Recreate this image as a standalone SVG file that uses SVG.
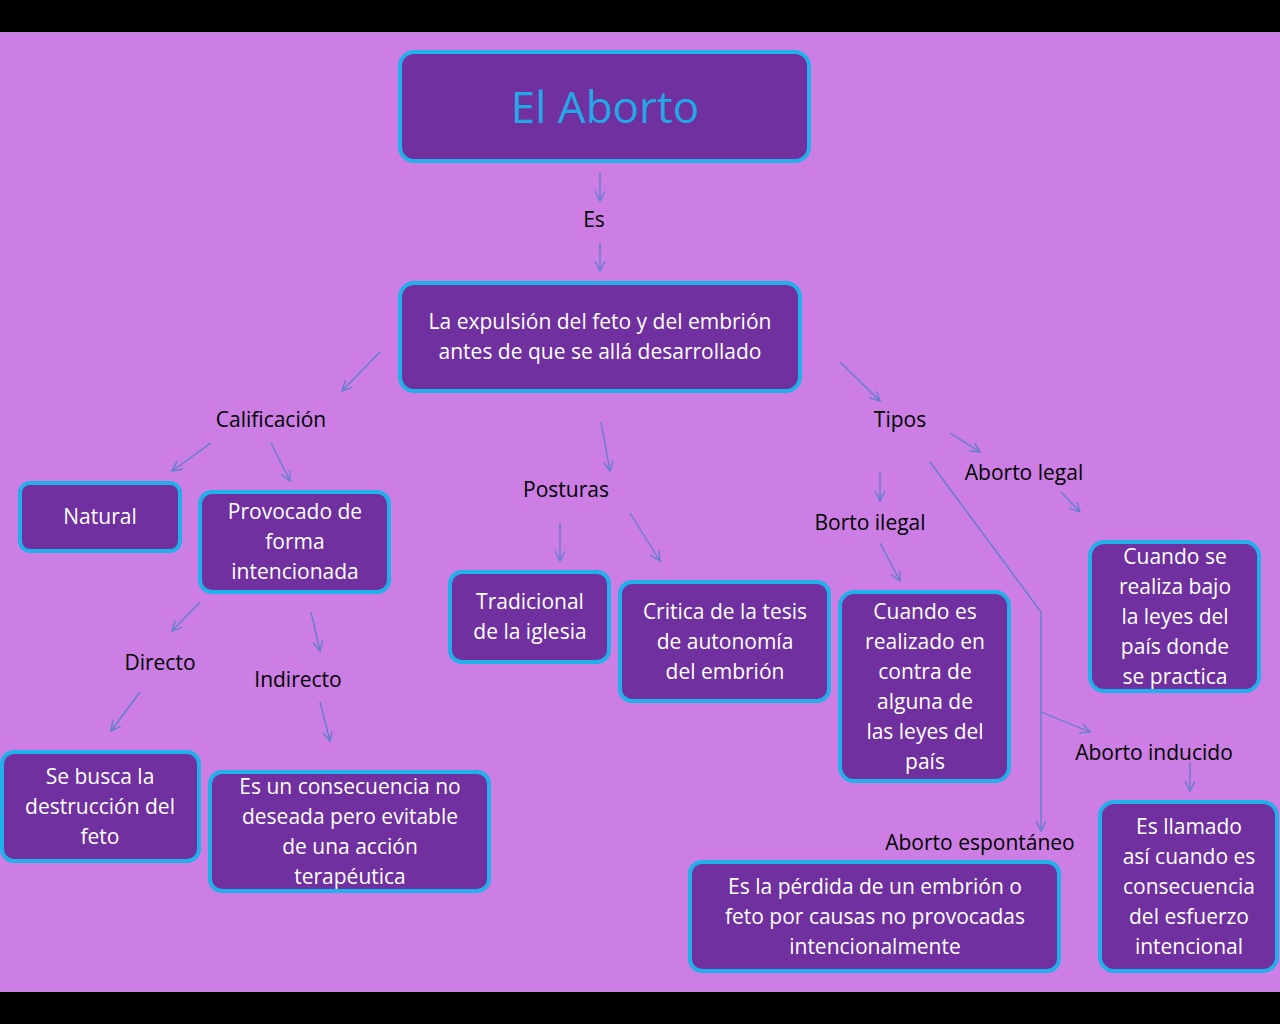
<svg xmlns="http://www.w3.org/2000/svg" width="1280" height="1024" viewBox="0 0 1280 1024">
<defs>
<style>
.b{fill:#7030a0;stroke:#21b0ea;stroke-width:4}
.t{font-family:"Open Sans","Liberation Sans",sans-serif;font-size:21px;fill:#fff;text-anchor:middle}
.l{font-family:"Open Sans","Liberation Sans",sans-serif;font-size:21px;fill:#000;text-anchor:middle}
.c line,.c polyline{stroke:#5a7fcc;stroke-width:1.3;fill:none}
</style>
<marker id="a" markerWidth="14" markerHeight="14" refX="10" refY="5" orient="auto" markerUnits="userSpaceOnUse"><polyline points="0,0 10,5 0,10" fill="none" stroke="#5a7fcc" stroke-width="1.3"/></marker>
</defs>
<rect width="1280" height="1024" fill="#000"/>
<rect y="32" width="1280" height="960" fill="#cc7ee4"/>
<g id="title"><rect class="b" x="400" y="52" width="409" height="109" rx="14"/><text x="605" y="123" font-family="'Open Sans','Liberation Sans',sans-serif" font-size="44" fill="#22a8e6" text-anchor="middle">El Aborto</text></g>
<g id="def"><rect class="b" x="400" y="283" width="400" height="108" rx="14"/><text class="t" x="600" y="329">La expulsión del feto y del embrión</text><text class="t" x="600" y="359">antes de que se allá desarrollado</text></g>
<g id="natural"><rect class="b" x="20" y="483" width="160" height="68" rx="10"/><text class="t" x="100" y="524">Natural</text></g>
<g id="provocado"><rect class="b" x="200" y="492" width="189" height="100" rx="12"/><text class="t" x="295" y="519">Provocado de</text><text class="t" x="295" y="549">forma</text><text class="t" x="295" y="579">intencionada</text></g>
<g id="tradicional"><rect class="b" x="450" y="572" width="159" height="90" rx="12"/><text class="t" x="530" y="609">Tradicional</text><text class="t" x="530" y="639">de la iglesia</text></g>
<g id="critica"><rect class="b" x="620" y="582" width="209" height="119" rx="12"/><text class="t" x="725" y="619">Critica de la tesis</text><text class="t" x="725" y="649">de autonomía</text><text class="t" x="725" y="679">del embrión</text></g>
<g id="ilegalbox"><rect class="b" x="840" y="592" width="169" height="189" rx="14"/><text class="t" x="925" y="619">Cuando es</text><text class="t" x="925" y="649">realizado en</text><text class="t" x="925" y="679">contra de</text><text class="t" x="925" y="709">alguna de</text><text class="t" x="925" y="739">las leyes del</text><text class="t" x="925" y="769">país</text></g>
<g id="legalbox"><rect class="b" x="1090" y="542" width="169" height="149" rx="14"/><text class="t" x="1175" y="564">Cuando se</text><text class="t" x="1175" y="594">realiza bajo</text><text class="t" x="1175" y="624">la leyes  del</text><text class="t" x="1175" y="654">país donde</text><text class="t" x="1175" y="684">se practica</text></g>
<g id="directobox"><rect class="b" x="2" y="752" width="197" height="109" rx="12"/><text class="t" x="100" y="784">Se busca la</text><text class="t" x="100" y="814">destrucción del</text><text class="t" x="100" y="844">feto</text></g>
<g id="indirectobox"><rect class="b" x="210" y="772" width="279" height="119" rx="12"/><text class="t" x="350" y="794">Es un consecuencia no</text><text class="t" x="350" y="824">deseada  pero evitable</text><text class="t" x="350" y="854">de una  acción</text><text class="t" x="350" y="884">terapéutica</text></g>
<g id="espontbox"><rect class="b" x="690" y="862" width="369" height="109" rx="12"/><text class="t" x="875" y="894">Es la pérdida de un embrión o</text><text class="t" x="875" y="924">feto por causas no provocadas</text><text class="t" x="875" y="954">intencionalmente</text></g>
<g id="inducidobox"><rect class="b" x="1100" y="802" width="177" height="169" rx="14"/><text class="t" x="1189" y="834">Es llamado</text><text class="t" x="1189" y="864">así cuando es</text><text class="t" x="1189" y="894">consecuencia</text><text class="t" x="1189" y="924">del esfuerzo</text><text class="t" x="1189" y="954">intencional</text></g>
<g id="labels">
<text class="l" x="594" y="227">Es</text>
<text class="l" x="271" y="427">Calificación</text>
<text class="l" x="900" y="427">Tipos</text>
<text class="l" x="566" y="497">Posturas</text>
<text class="l" x="1024" y="480">Aborto legal</text>
<text class="l" x="870" y="530">Borto ilegal</text>
<text class="l" x="160" y="670">Directo</text>
<text class="l" x="298" y="687">Indirecto</text>
<text class="l" x="1154" y="760">Aborto inducido</text>
<text class="l" x="980" y="850">Aborto espontáneo</text>
</g>
<g class="c">
<line x1="600" y1="173" x2="600" y2="201" marker-end="url(#a)"/>
<line x1="600" y1="243" x2="600" y2="271" marker-end="url(#a)"/>
<line x1="380" y1="352" x2="342" y2="391" marker-end="url(#a)"/>
<line x1="840" y1="362" x2="880" y2="401" marker-end="url(#a)"/>
<line x1="601" y1="422" x2="610" y2="471" marker-end="url(#a)"/>
<line x1="211" y1="443" x2="172" y2="471" marker-end="url(#a)"/>
<line x1="271" y1="443" x2="290" y2="481" marker-end="url(#a)"/>
<line x1="950" y1="433" x2="980" y2="452" marker-end="url(#a)"/>
<line x1="880" y1="472" x2="880" y2="501" marker-end="url(#a)"/>
<line x1="1061" y1="492" x2="1080" y2="512" marker-end="url(#a)"/>
<line x1="560" y1="523" x2="560" y2="561" marker-end="url(#a)"/>
<line x1="630" y1="513" x2="660" y2="561" marker-end="url(#a)"/>
<line x1="880" y1="543" x2="900" y2="581" marker-end="url(#a)"/>
<line x1="200" y1="602" x2="172" y2="631" marker-end="url(#a)"/>
<line x1="311" y1="612" x2="320" y2="651" marker-end="url(#a)"/>
<line x1="140" y1="692" x2="111" y2="731" marker-end="url(#a)"/>
<line x1="320" y1="702" x2="330" y2="741" marker-end="url(#a)"/>
<polyline points="930,462 1041,612 1041,831" marker-end="url(#a)"/>
<line x1="1041" y1="712" x2="1090" y2="732" marker-end="url(#a)"/>
<line x1="1190" y1="762" x2="1190" y2="791" marker-end="url(#a)"/>
</g>
</svg>
